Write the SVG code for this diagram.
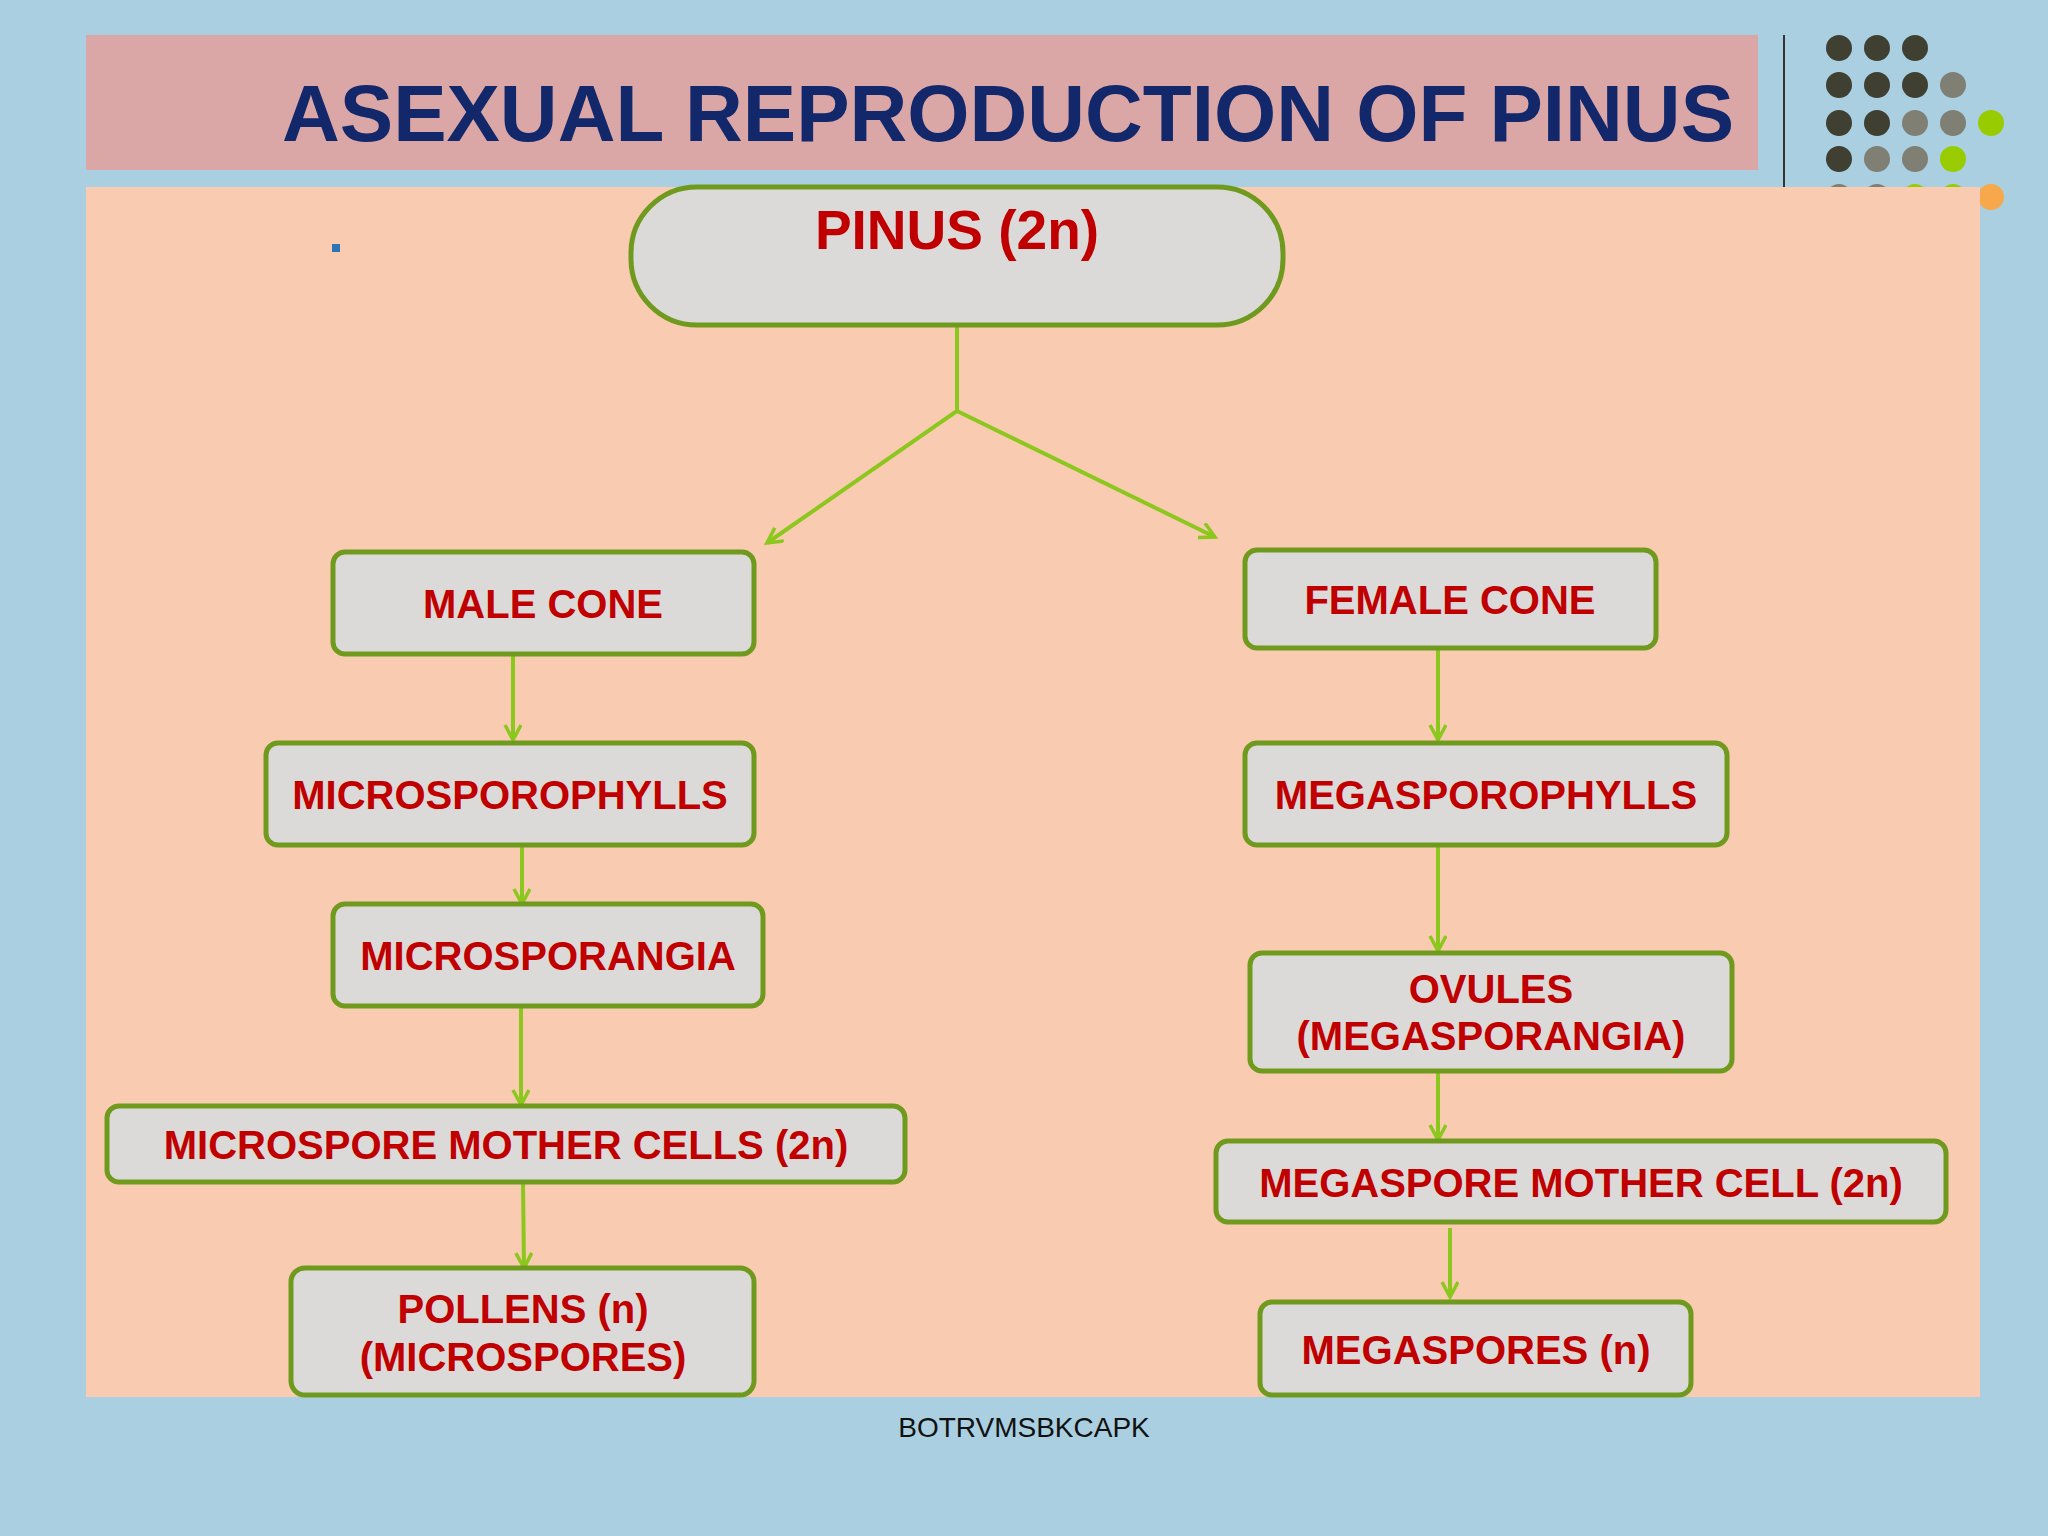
<svg xmlns="http://www.w3.org/2000/svg" width="2048" height="1536" viewBox="0 0 2048 1536">
<style>
.box{fill:#dcdad8;stroke:#6f9a1e;stroke-width:5}
.lbl{font-family:"Liberation Sans",Arial,sans-serif;font-weight:bold;font-size:40px;fill:#c00000;text-anchor:middle}
.con{stroke:#8cc71e;stroke-width:4;fill:none}
</style>
<defs>
<marker id="ah" markerWidth="20" markerHeight="20" refX="16" refY="9" orient="auto" markerUnits="userSpaceOnUse">
<path d="M1,1 L16,9 L1,17" fill="none" stroke="#8cc71e" stroke-width="3.5"/>
</marker>
</defs>
<rect width="2048" height="1536" fill="#a9cfe0"/>
<rect x="86" y="35" width="1672" height="135" fill="#dba6a6"/>
<text x="1734" y="141" text-anchor="end" font-family="Liberation Sans,Arial,sans-serif" font-weight="bold" font-size="80" fill="#13286b">ASEXUAL REPRODUCTION OF PINUS</text>
<line x1="1784" y1="35" x2="1784" y2="187" stroke="#333" stroke-width="2"/>
<g>
<circle cx="1839" cy="48" r="13" fill="#3f3f32"/><circle cx="1877" cy="48" r="13" fill="#3f3f32"/><circle cx="1915" cy="48" r="13" fill="#3f3f32"/>
<circle cx="1839" cy="85" r="13" fill="#3f3f32"/><circle cx="1877" cy="85" r="13" fill="#3f3f32"/><circle cx="1915" cy="85" r="13" fill="#3f3f32"/><circle cx="1953" cy="85" r="13" fill="#7f7f74"/>
<circle cx="1839" cy="123" r="13" fill="#3f3f32"/><circle cx="1877" cy="123" r="13" fill="#3f3f32"/><circle cx="1915" cy="123" r="13" fill="#7f7f74"/><circle cx="1953" cy="123" r="13" fill="#7f7f74"/><circle cx="1991" cy="123" r="13" fill="#99cc00"/>
<circle cx="1839" cy="159" r="13" fill="#3f3f32"/><circle cx="1877" cy="159" r="13" fill="#7f7f74"/><circle cx="1915" cy="159" r="13" fill="#7f7f74"/><circle cx="1953" cy="159" r="13" fill="#99cc00"/>
<circle cx="1839" cy="197" r="13" fill="#7f7f74"/><circle cx="1877" cy="197" r="13" fill="#7f7f74"/><circle cx="1915" cy="197" r="13" fill="#99cc00"/><circle cx="1953" cy="197" r="13" fill="#99cc00"/><circle cx="1991" cy="197" r="13" fill="#f7a84a"/>
</g>
<rect x="86" y="187" width="1894" height="1210" fill="#f9cbb0"/>
<rect x="332" y="244" width="8" height="8" fill="#2e75b6"/>
<g id="connectors">
<path class="con" d="M957,325 V411 L767,543" marker-end="url(#ah)"/>
<path class="con" d="M957,411 L1215,537" marker-end="url(#ah)"/>
<line class="con" x1="513" y1="654" x2="513" y2="740" marker-end="url(#ah)"/>
<line class="con" x1="522" y1="845" x2="522" y2="904" marker-end="url(#ah)"/>
<line class="con" x1="521" y1="1006" x2="521" y2="1105" marker-end="url(#ah)"/>
<line class="con" x1="523" y1="1182" x2="524" y2="1268" marker-end="url(#ah)"/>
<line class="con" x1="1438" y1="648" x2="1438" y2="740" marker-end="url(#ah)"/>
<line class="con" x1="1438" y1="845" x2="1438" y2="951" marker-end="url(#ah)"/>
<line class="con" x1="1438" y1="1071" x2="1438" y2="1140" marker-end="url(#ah)"/>
<line class="con" x1="1450" y1="1228" x2="1450" y2="1297" marker-end="url(#ah)"/>
</g>
<g id="pinus"><rect class="box" x="631" y="187" width="652" height="138" rx="66"/><text class="lbl" x="957" y="249" style="font-size:55px">PINUS (2n)</text></g>
<g id="male"><rect class="box" x="333" y="552" width="421" height="102" rx="12"/><text class="lbl" x="543" y="618">MALE CONE</text></g>
<g id="microsporophylls"><rect class="box" x="266" y="743" width="488" height="102" rx="12"/><text class="lbl" x="510" y="809">MICROSPOROPHYLLS</text></g>
<g id="microsporangia"><rect class="box" x="333" y="904" width="430" height="102" rx="12"/><text class="lbl" x="548" y="970">MICROSPORANGIA</text></g>
<g id="mmc"><rect class="box" x="107" y="1106" width="798" height="76" rx="12"/><text class="lbl" x="506" y="1159">MICROSPORE MOTHER CELLS (2n)</text></g>
<g id="pollens"><rect class="box" x="291" y="1268" width="463" height="127" rx="14"/><text class="lbl" x="523" y="1323">POLLENS (n)</text><text class="lbl" x="523" y="1371">(MICROSPORES)</text></g>
<g id="female"><rect class="box" x="1245" y="550" width="411" height="98" rx="12"/><text class="lbl" x="1450" y="614">FEMALE CONE</text></g>
<g id="megasporophylls"><rect class="box" x="1245" y="743" width="482" height="102" rx="12"/><text class="lbl" x="1486" y="809">MEGASPOROPHYLLS</text></g>
<g id="ovules"><rect class="box" x="1250" y="953" width="482" height="118" rx="12"/><text class="lbl" x="1491" y="1003">OVULES</text><text class="lbl" x="1491" y="1050">(MEGASPORANGIA)</text></g>
<g id="megmc"><rect class="box" x="1216" y="1141" width="730" height="81" rx="12"/><text class="lbl" x="1581" y="1197">MEGASPORE MOTHER CELL (2n)</text></g>
<g id="megaspores"><rect class="box" x="1260" y="1302" width="431" height="93" rx="12"/><text class="lbl" x="1476" y="1364">MEGASPORES (n)</text></g>
<text x="1024" y="1437" text-anchor="middle" font-family="Liberation Sans,Arial,sans-serif" font-size="28" fill="#111">BOTRVMSBKCAPK</text>
</svg>
